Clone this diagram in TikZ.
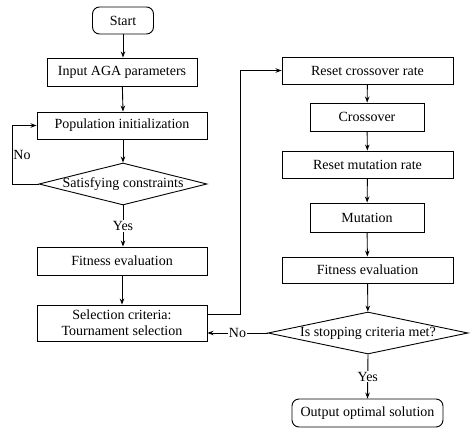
\documentclass[tikz,border=0pt]{standalone}
\usepackage{fontspec}
\setmainfont{Liberation Serif}
\usetikzlibrary{shapes.geometric, arrows.meta}

\begin{document}
\begin{tikzpicture}[x=1pt, y=-1pt, line width=0.9pt,
    >={Stealth[length=6pt, width=4.5pt]},
    every node/.style={font=\fontsize{14}{16}\selectfont, inner sep=0pt},
    block/.style={draw, rectangle, minimum height=27pt},
    term/.style={draw, rectangle, rounded corners=7pt, minimum height=27pt},
    decide/.style={draw, diamond, minimum width=#1, minimum height=42pt},
    tag/.style={fill=white, inner sep=1pt}]
            \useasboundingbox (0,0) rectangle (474,434);
            \node[term, minimum width=61pt] (start) at (123,20.5) {Start};
            \node[block, minimum width=150pt, minimum height=28pt] (input) at (122,72) {Input AGA parameters};
            \node[block, minimum width=170pt] (popinit) at (122,125.5) {Population initialization};
            \node[decide=168pt] (satisfy) at (123,184) {\makebox[0pt]{Satisfying constraints}};
            \node[block, minimum width=170pt, minimum height=28pt] (fitone) at (122,261) {Fitness evaluation};
            \node[block, minimum width=170pt, minimum height=36pt, align=center] (select) at (122,323) {Selection criteria:\\Tournament selection};
            \node[block, minimum width=171pt] (resetcross) at (367.5,70.5) {Reset crossover rate};
            \node[block, minimum width=114pt, minimum height=28pt] (cross) at (367,117) {Crossover};
            \node[block, minimum width=171pt] (resetmut) at (367.5,164.5) {Reset mutation rate};
            \node[block, minimum width=114pt, minimum height=29pt] (mutat) at (367,217.5) {Mutation};
            \node[block, minimum width=171pt, minimum height=26pt] (fittwo) at (367.5,270) {Fitness evaluation};
            \node[decide=200pt] (stop) at (368,333) {\makebox[0pt]{Is stopping criteria met?}};
            \node[term, minimum width=151pt, minimum height=28pt] (output) at (367.5,413) {Output optimal solution};
            \coordinate (noturn) at (12,184);
            \coordinate (upturn) at (240,314);
            \draw[->] (start) -- (start |- input.north);
            \draw[->] (input) -- (start |- popinit.north);
            \draw[->] (start |- popinit.south) -- (satisfy);
            \draw[->] (satisfy.west) -- (noturn) |- (popinit.west);
            \node (notext) at (22,155) {No};
            \draw[->] (satisfy.south) -- node[tag] (yesone) {Yes} (satisfy.south |- fitone.north);
            \draw[->] (fitone) -- (select);
            \draw[->] (select.east |- upturn) -- (upturn) |- (resetcross.west);
            \draw[->] (resetcross) -- (cross);
            \draw[->] (cross) -- (resetmut);
            \draw[->] (resetmut) -- (mutat);
            \draw[->] (mutat) -- (fittwo);
            \draw[->] (fittwo) -- (stop);
            \draw[->] (stop.west) -- node[tag] (notwo) {No} (select.east |- stop.west);
            \draw[->] (stop.south) -- node[tag] (yestwo) {Yes} (output.north);
        \end{tikzpicture}
\end{document}
